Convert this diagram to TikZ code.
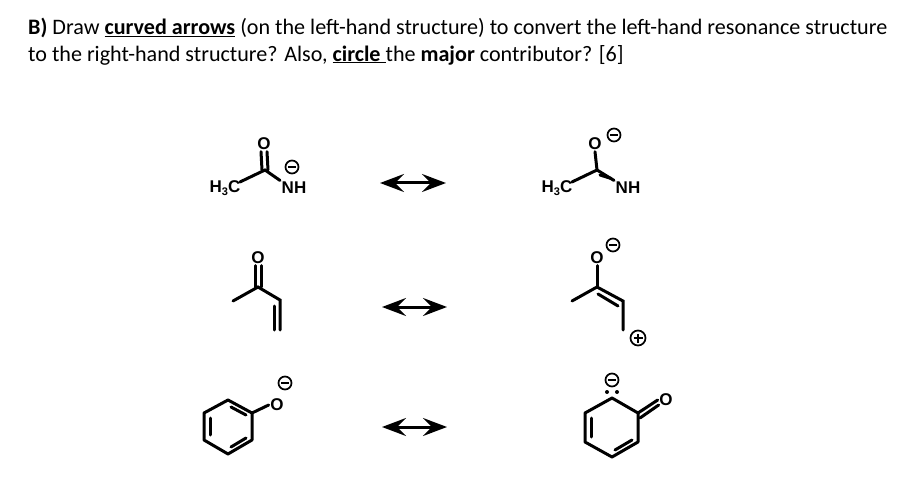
\documentclass[tikz,border=0pt]{standalone}
\usepackage{fontspec}
\setmainfont{Carlito}
\newfontfamily\chemf{Liberation Sans}
\usetikzlibrary{arrows.meta,calc}
\newcommand\sbt[1]{\raisebox{-0.3ex}{\fontsize{11}{11}\selectfont #1}}
\begin{document}
\begin{tikzpicture}[x=1pt,y=-1pt,
  bond/.style={line width=3pt,line cap=round},
  atom/.style={font=\chemf\bfseries\fontsize{17}{17}\selectfont,inner sep=1.5pt},
  negc/.style={circle,draw,line width=1.7pt,minimum size=13pt,inner sep=0pt,
     path picture={\draw[line width=1.9pt] ($(path picture bounding box.center)+(-4pt,0)$)--($(path picture bounding box.center)+(4pt,0)$);}},
  posc/.style={circle,draw,line width=1.7pt,minimum size=15pt,inner sep=0pt,
     path picture={\draw[line width=1.9pt] ($(path picture bounding box.center)+(-4.5pt,0)$)--($(path picture bounding box.center)+(4.5pt,0)$) ($(path picture bounding box.center)+(0,-4.5pt)$)--($(path picture bounding box.center)+(0,4.5pt)$);}},
  resarrow/.style={line width=3pt,{Stealth[length=24pt,width=18pt,inset=9pt]}-{Stealth[length=24pt,width=18pt,inset=9pt]}},
  title/.style={anchor=west,inner sep=0pt,font=\fontsize{22.1}{23}\selectfont}]
\useasboundingbox (0,0) rectangle (912,478);
\fill[white] (0,0) rectangle (912,478);
\node[title] (t1) at (28,28) {\textbf{B)} Draw \textbf{\underline{curved arrows}} (on the left-hand structure) to convert the left-hand resonance structure};
\node[title] (t2) at (28,55) {to the right-hand structure? Also, \textbf{\underline{circle }}the \textbf{major} contributor? [6]};

% Row 1 left
\node[atom] (a1) at (225,188) {H\sbt{3}C};
\coordinate (c1) at (265,170);
\node[atom] (o1) at (264,144) {O};
\node[atom] (n1) at (294,188) {NH};
\node[negc] (m1) at (292,167) {};
\draw[bond] (a1.north east) ++(-2,3) -- (c1) -- (n1.north west);
\draw[bond] ($(c1)+(-3,0)$) -- ($(o1.south)+(-3,0)$);
\draw[bond] ($(c1)+(3,0)$) -- ($(o1.south)+(3,0)$);
% Row 1 arrow
\coordinate (r1a) at (380,183); \coordinate (r1b) at (446,183);
\draw[resarrow] (r1a) -- (r1b);
% Row 1 right
\node[atom] (a2) at (557,188) {H\sbt{3}C};
\coordinate (c2) at (597,170);
\node[atom] (o2) at (595,144) {O};
\node[negc] (m2) at (614,135) {};
\node[atom] (n2) at (628,188) {NH};
\draw[bond] (a2.north east) ++(-2,3) -- (c2) -- (o2.south);
\draw[bond] (c2) -- (n2.north west);
\draw[bond] ($(c2)+(3,5)$) -- ($(n2.north west)+(-3,-2)$);

% Row 2 left
\node[atom] (o3) at (258,258) {O};
\coordinate (c3) at (258,287);
\coordinate (e3) at (233,301);
\coordinate (d3) at (280,300);
\coordinate (f3) at (280,330);
\draw[bond] (e3) -- (c3) -- (d3) -- (f3);
\draw[bond] ($(c3)+(-3,0)$) -- ($(o3.south)+(-3,0)$);
\draw[bond] ($(c3)+(3,0)$) -- ($(o3.south)+(3,0)$);
\draw[bond] (274,306) -- (274,330);
% Row 2 arrow
\coordinate (r2a) at (382,307); \coordinate (r2b) at (447,307);
\draw[resarrow] (r2a) -- (r2b);
% Row 2 right
\node[atom] (o4) at (597,258) {O};
\node[negc] (m4) at (613,245) {};
\coordinate (c4) at (597,287);
\coordinate (e4) at (572,301);
\coordinate (d4) at (623,301);
\coordinate (f4) at (623,330);
\node[posc] (p4) at (638,338) {};
\draw[bond] (o4.south) -- (c4);
\draw[bond] (e4) -- (c4) -- (d4) -- (f4);
\draw[bond] (598,294) -- (618,306);

% Row 3 left
\coordinate (g1) at (228,400); \coordinate (g2) at (252,413); \coordinate (g3) at (252,440);
\coordinate (g4) at (228,454); \coordinate (g5) at (204,440); \coordinate (g6) at (204,413);
\draw[bond,line join=round] (g1) -- (g2) -- (g3) -- (g4) -- (g5) -- (g6) -- cycle;
\draw[bond] (210,418) -- (210,435);
\draw[bond] (231,407) -- (246,415);
\draw[bond] (246,438) -- (231,447);
\node[atom] (o5) at (277,405) {O};
\node[negc] (m5) at (285,383) {};
\draw[bond] (g2) -- (o5.west);
% Row 3 arrow
\coordinate (r3a) at (382,427); \coordinate (r3b) at (447,427);
\draw[resarrow] (r3a) -- (r3b);
% Row 3 right
\coordinate (h1) at (612,398); \coordinate (h2) at (638,413); \coordinate (h3) at (638,442);
\coordinate (h4) at (612,457); \coordinate (h5) at (585,442); \coordinate (h6) at (585,413);
\draw[bond,line join=round] (h1) -- (h2) -- (h3) -- (h4) -- (h5) -- (h6) -- cycle;
\draw[bond] (591,418) -- (591,437);
\draw[bond] (632,440) -- (615,450);
\node[atom] (o6) at (666,400) {O};
\draw[bond] (h2) -- (o6.west);
\draw[bond] ($(h2)+(2,5)$) -- ($(o6.west)+(1,5)$);
\fill (607,392) circle (2pt) (617,392) circle (2pt);
\node[negc] (m6) at (612,380) {};
\end{tikzpicture}
\end{document}
